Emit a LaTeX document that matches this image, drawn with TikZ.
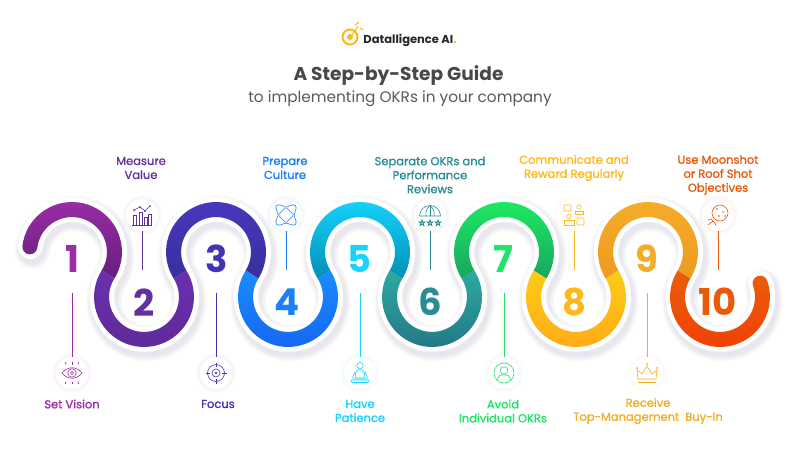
\documentclass[tikz,border=0pt]{standalone}
\usepackage{fontspec}
\setmainfont{Poppins}
\newfontfamily\labelfont[FakeBold=1.2]{Poppins}
\definecolor{stepa}{HTML}{9A2DA6}
\definecolor{stepb}{HTML}{64309F}
\definecolor{stepc}{HTML}{4234B4}
\definecolor{stepd}{HTML}{1A7FF8}
\definecolor{stepe}{HTML}{1AD2FC}
\definecolor{stepf}{HTML}{2A8C96}
\definecolor{stepg}{HTML}{1EE468}
\definecolor{steph}{HTML}{FFB81C}
\definecolor{stepi}{HTML}{F5AC28}
\definecolor{stepj}{HTML}{E95A0A}
\definecolor{headgray}{HTML}{484848}
\tikzset{x=1pt,y=-1pt}
\tikzset{numtext/.style={font=\fontsize{37}{37}\selectfont\bfseries}}
\tikzset{steptext/.style={font=\labelfont\fontsize{11.5}{14}\selectfont,align=center,text=#1}}
\tikzset{iconbox/.style={circle,fill=white,minimum size=32pt,inner sep=0pt}}
\tikzset{leader/.style={line width=.8pt,draw=#1}}
\tikzset{icn/.style={draw=#1,line width=.6pt}}
\newcommand{\snakeseg}[6]{\shade[top color=#5,bottom color=#6] ([shift={(#3:49.95)}]#1,#2) arc (#3:#4:49.95) -- ([shift={(#4:34.95)}]#1,#2) arc (#4:#3:34.95) -- cycle;}
\newcommand{\glow}[2]{\fill[#2,opacity=.02] (#1) circle (20); \fill[#2,opacity=.03] (#1) circle (18);}
\def\snakeline{(30.3,246.8) arc (187:392:42.45) arc (212:-32:42.45) arc (148:392:42.45) arc (212:-32:42.45) arc (148:392:42.45) arc (212:-32:42.45) arc (148:392:42.45) arc (212:-32:42.45) arc (148:392:42.45) arc (212:-19:42.45)}
\begin{document}
\begin{tikzpicture}
\useasboundingbox (0,0) rectangle (800,450);
\fill[white] (0,0) rectangle (800,450);
\foreach \w in {36,33,30,27}
  \draw[line width=\w pt,line cap=round,draw=black!70!blue,opacity=.025,shift={(2,4)}] \snakeline;
\draw[line width=24.5pt,line cap=round,white] \snakeline;
\shade[top color=stepa,bottom color=stepa!70!black!95!blue] ([shift={(187:49.95)}]72,252) arc (187:392:49.95) -- ([shift={(392:34.95)}]72,252) arc (392:187:34.95) arc (7:187:7.5) -- cycle;
\foreach \cx/\cy/\a/\b/\ct/\cb in {
  144/297/212/-32/6A30B0/5E2A96,
  216/252/148/392/4838C0/3A2F9C,
  288/297/212/-32/1A8CFF/1565F0,
  360/252/148/392/18D6FF/0090B6,
  432/297/212/-32/2DAAA2/237484,
  504/252/148/392/1EEE62/18A65E,
  576/297/212/-32/FFCC14/FFA818,
  648/252/148/392/F5AE2A/EE9A20}{
  \definecolor{ctop}{HTML}{\ct}\definecolor{cbot}{HTML}{\cb}
  \snakeseg{\cx}{\cy}{\a}{\b}{ctop}{cbot}
}
\shade[top color=stepj!90!orange,bottom color=stepj!70!red] ([shift={(212:49.95)}]720,297) arc (212:-19:49.95) arc (-19:-199:7.5) arc (-19:212:34.95) -- cycle;
\foreach \name/\x/\y/\t/\c in {na/72/259/1/stepa,nb/144/303/2/stepb,nc/217/259/3/stepc,nd/287/302/4/stepd,ne/360/259/5/stepe,nf/430/302/6/stepf,ng/503/259/7/stepg,nh/574/302/8/steph,ni/647/259/9/stepi,nj/718/302/10/stepj}
  \node[numtext,text=\c] (\name) at (\x,\y) {\t};
\foreach \name/\x/\y/\ex/\c in {eye/72/373/293/stepa,chart/142/215/270/stepb,aim/216/373/293/stepc,hands/286/215/270/stepd,calm/360/373/293/stepe,rate/430/215/270/stepf,user/504/373/293/stepg,boxes/574/215/270/steph,crown/647/373/293/stepi,moon/718/215/270/stepj}{
  \glow{\x,\y}{\c}
  \node[iconbox] (\name) at (\x,\y) {};
  \coordinate (\name end) at (\x,\ex);
  \draw[leader=\c] (\name) -- (\name end);
}
\begin{scope}[shift={(eye)},icn=stepa]
\draw (-10,0) .. controls (-4,-7) and (4,-7) .. (10,0) .. controls (4,7) and (-4,7) .. (-10,0);
\draw (0,0) circle (4.2); \draw (0,0) circle (1.5);
\foreach \t in {-4.5,0,4.5} {\draw (\t*1.3,-8.5) -- (\t*1.5,-11); \draw (\t*1.3,8.5) -- (\t*1.5,11);}
\end{scope}
\begin{scope}[shift={(chart)},icn=stepb]
\draw (-10,10.5) -- (10,10.5);
\draw (-9,10.5) rectangle (-6,0); \draw (-3,10.5) rectangle (0,-3); \draw (2,10.5) rectangle (5,2); \draw (6.5,10.5) rectangle (9.5,-1);
\draw (-8,-5) -- (-2,-8) -- (3,-4) -- (8,-9);
\foreach \p in {(-8,-5),(-2,-8),(3,-4),(8,-9)} \fill[stepb] \p circle (1);
\end{scope}
\begin{scope}[shift={(aim)},icn=stepc]
\draw (0,0) circle (8.5); \draw (0,0) circle (4); \draw (0,0) circle (1);
\draw (0,-10.5) -- (0,-6); \draw (0,6) -- (0,10.5); \draw (-10.5,0) -- (-6,0); \draw (6,0) -- (10.5,0);
\end{scope}
\begin{scope}[shift={(hands)},icn=stepd]
\draw[rotate=45,rounded corners=1pt] (-5.5,-5.5) rectangle (5.5,5.5);
\draw[rounded corners=2pt] (-10,-5) -- (-10,-10) -- (-4,-10) -- (0,-7) -- (4,-10) -- (10,-10) -- (10,-4) -- (7,0) -- (10,4) -- (10,10) -- (4,10) -- (0,7) -- (-4,10) -- (-10,10) -- (-10,4) -- (-7,0) -- cycle;
\end{scope}
\begin{scope}[shift={(calm)},icn=stepe]
\draw (0,-7.5) circle (3.3);
\draw[rounded corners=2pt] (-4,-3) -- (4,-3) -- (5,5) -- (-5,5) -- cycle;
\draw[rounded corners=2pt] (-5,-1) -- (-8,6) -- (8,6) -- (5,-1);
\draw[rounded corners=1pt] (-9,7) rectangle (9,9.5);
\end{scope}
\begin{scope}[shift={(rate)},icn=stepf]
\draw (-10.5,1) arc (180:360:10.5) -- cycle;
\draw (0,-9.5) -- (0,1); \draw (-4,1) .. controls (-5,-3) and (-3,-7) .. (0,-9.5) .. controls (3,-7) and (5,-3) .. (4,1);
\foreach \s in {-8,0,8} \draw (\s,8)+(270:3.4) -- +(54:3.4) -- +(198:3.4) -- +(342:3.4) -- +(126:3.4) -- cycle;
\end{scope}
\begin{scope}[shift={(user)},icn=stepg]
\draw (0,0) circle (10); \draw (0,-2.5) circle (3.8);
\draw (-6.5,7) .. controls (-6,2.5) and (-3,1.5) .. (0,1.5) .. controls (3,1.5) and (6,2.5) .. (6.5,7);
\end{scope}
\begin{scope}[shift={(boxes)},icn=steph]
\draw[rounded corners=.8pt] (-10,-10) rectangle (-3,-4); \draw[rounded corners=.8pt] (3,10) rectangle (10,3);
\draw (5,-8) circle (2.2); \draw (1,-1) -- (1,-4) -- (9,-4) -- (9,-1) -- cycle;
\draw (-5,1.5) circle (2.2); \draw (-10,10) -- (-10,5) -- (0,5) -- (0,10) -- cycle;
\end{scope}
\begin{scope}[shift={(crown)},icn=stepi]
\draw (-9,6) -- (-10,-3) -- (-5,1) -- (0,-7) -- (5,1) -- (10,-3) -- (9,6) -- cycle;
\draw (-9,9) -- (9,9);
\foreach \p in {(-10,-5),(0,-9),(10,-5)} \fill[stepi] \p circle (1);
\end{scope}
\begin{scope}[shift={(moon)},icn=stepj]
\draw (2,-2) circle (8);
\foreach \p in {(-1,-6),(5,-3),(1,1),(7,1)} \fill[stepj] \p circle (.9);
\draw (-5,6) -- (-10,10) (-3,8) -- (-7,4) -- (-10,5) (-3,8) -- (-2,10.5);
\end{scope}
\node[steptext=stepa] (tvision) at (72,404) {Set Vision};
\node[steptext=stepb] (tmeasure) at (141,168) {Measure\\Value};
\node[steptext=stepc] (tfocus) at (218,404) {Focus};
\node[steptext=stepd] (tculture) at (285,168) {Prepare\\Culture};
\node[steptext=stepe] (tpatience) at (360,411) {Have\\Patience};
\node[steptext=stepf] (tseparate) at (430,175) {Separate OKRs and\\Performance\\Reviews};
\node[steptext=stepg] (tavoid) at (503,411) {Avoid\\Individual OKRs};
\node[steptext=steph] (tcomm) at (574,168) {Communicate and\\Reward Regularly};
\node[steptext=stepi] (tbuyin) at (648,411) {Receive\\Top-Management~ Buy-In};
\node[steptext=stepj] (tmoon) at (718,175) {Use Moonshot\\or Roof Shot\\Objectives};
\draw[line width=2pt,steph] (350,37) circle (7.5);
\fill[steph] (350,37) circle (3);
\draw[line width=1pt,steph] (352,35) -- (358,26) (355,25) -- (359,22) (360,28) -- (363,30);
\node[font=\fontsize{11.5}{12}\selectfont\bfseries,text=black!85] (logo) at (410,40) {Datalligence AI\textcolor{steph}{.}};
\node[font=\fontsize{18.6}{22}\selectfont\bfseries,text=headgray] (head) at (398.5,76) {A Step-by-Step Guide};
\node[font=\fontsize{15.3}{18}\selectfont,text=headgray!90] (subhead) at (400,99) {to implementing OKRs in your company};
\end{tikzpicture}
\end{document}
